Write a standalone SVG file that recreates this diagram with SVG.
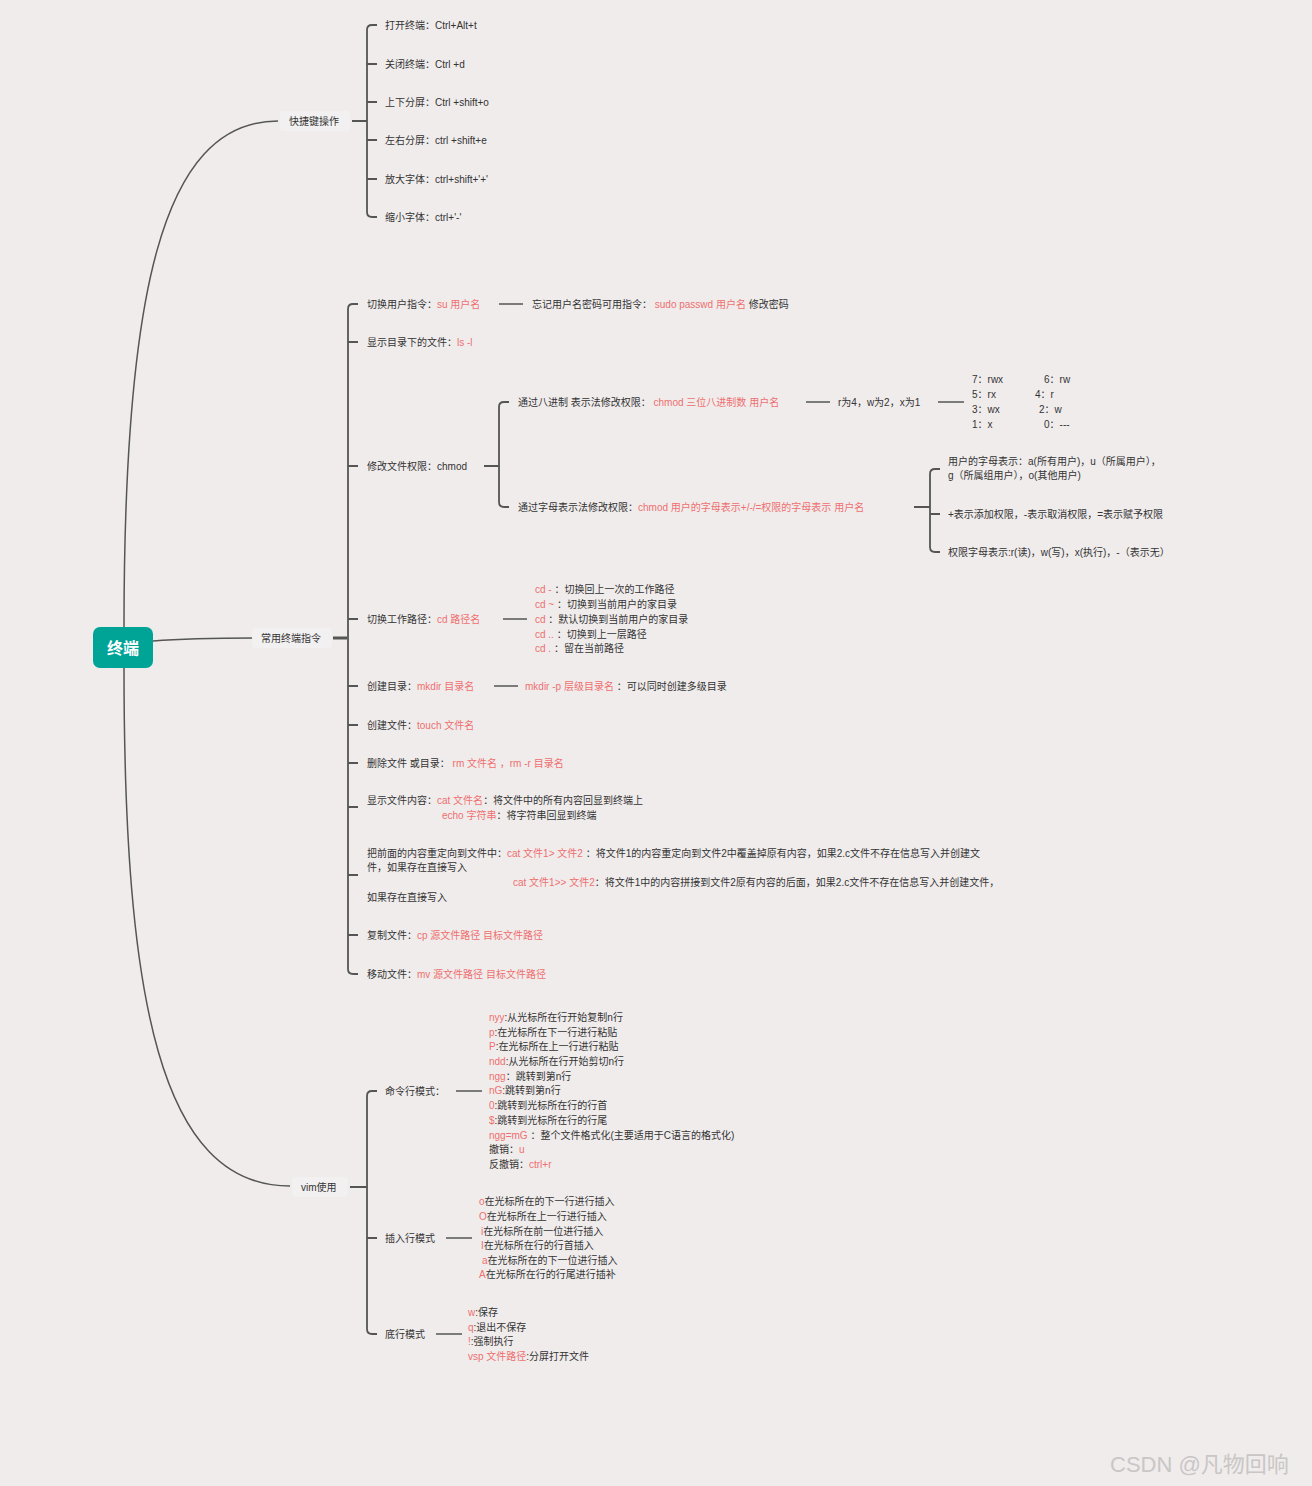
<svg xmlns="http://www.w3.org/2000/svg" width="1312" height="1486" viewBox="0 0 1312 1486">
<style>
text{font-family:"Liberation Sans","Noto Sans CJK SC",sans-serif;font-size:10px;fill:#333;dominant-baseline:central}
.r{fill:#ee6f6f}
.ln{fill:none;stroke:#555;stroke-width:1.5}
.br{fill:none;stroke:#555;stroke-width:1.8}
.lbl{fill:#f2f0f0}
</style>
<rect width="1312" height="1486" fill="#f0ecec"/>
<g id="connectors">
<path class="ln" d="M124,627 C124,300 160,121 278,121"/>
<path class="ln" d="M124,668 C124,1000 160,1186 290,1186"/>
<path class="ln" d="M153,641 C190,638 220,638 255,638"/>
<!-- shortcuts -->
<path class="br" d="M352,121 H367 M372,25 Q367,25 367,30 V212 Q367,217 372,217 H377 M372,25 H377 M367,64 H377 M367,102 H377 M367,140 H377 M367,179 H377"/>
<!-- commands -->
<path d="M333,638 H347" stroke="#555" stroke-width="3"/>
<path class="br" d="M353,304 Q348,304 348,309 V969 Q348,974 353,974 H358 M353,304 H358 M348,342 H358 M348,466 H358 M348,619 H358 M348,686 H358 M348,725 H358 M348,763 H358 M348,807 H358 M348,875 H358 M348,935 H358"/>
<path class="ln" d="M499,304 H523 M503,619 H527 M494,686 H518"/>
<path class="br" d="M484,466 H499 M504,402 Q499,402 499,407 V502 Q499,507 504,507 H509 M504,402 H509"/>
<path class="ln" d="M806,402 H830 M938,402 H964"/>
<path class="br" d="M914,507 H930 M935,469 Q930,469 930,474 V547 Q930,552 935,552 H940 M935,469 H940 M930,514 H940"/>
<!-- vim -->
<path class="br" d="M350,1187 H367 M372,1091 Q367,1091 367,1096 V1329 Q367,1334 372,1334 H377 M372,1091 H377 M367,1238 H377"/>
<path class="ln" d="M456,1091 H482 M446,1238 H472 M436,1334 H462"/>
</g>
<g id="root">
<rect x="93" y="627" width="60" height="41" rx="7" fill="#00a497"/>
<text x="123" y="648" text-anchor="middle" style="fill:#fff;font-size:16px;font-weight:bold">终端</text>
</g>
<g id="shortcuts">
<rect class="lbl" x="280" y="111" width="70" height="20" rx="4"/>
<text x="289" y="121">快捷键操作</text>
<text x="385" y="25">打开终端：Ctrl+Alt+t</text>
<text x="385" y="64">关闭终端：Ctrl +d</text>
<text x="385" y="102">上下分屏：Ctrl +shift+o</text>
<text x="385" y="140">左右分屏：ctrl +shift+e</text>
<text x="385" y="179">放大字体：ctrl+shift+'+'</text>
<text x="385" y="217">缩小字体：ctrl+'-'</text>
</g>
<g id="commands">
<rect class="lbl" x="252" y="628" width="80" height="20" rx="4"/>
<text x="261" y="638">常用终端指令</text>
<text x="367" y="304">切换用户指令：<tspan class="r">su  用户名</tspan></text>
<text x="532" y="304">忘记用户名密码可用指令： <tspan class="r">sudo passwd  用户名</tspan>   修改密码</text>
<text x="367" y="342">显示目录下的文件：<tspan class="r">ls  -l</tspan></text>
<text x="367" y="466">修改文件权限：chmod</text>
<text x="518" y="402">通过八进制 表示法修改权限： <tspan class="r">chmod 三位八进制数 用户名</tspan></text>
<text x="838" y="402">r为4，w为2，x为1</text>
<text x="972" y="379">7：rwx</text><text x="1044" y="379">6：rw</text>
<text x="972" y="394">5：rx</text><text x="1035" y="394">4：r</text>
<text x="972" y="409">3：wx</text><text x="1039" y="409">2：w</text>
<text x="972" y="424">1：x</text><text x="1044" y="424">0：---</text>
<text x="518" y="507">通过字母表示法修改权限：<tspan class="r">chmod 用户的字母表示+/-/=权限的字母表示  用户名</tspan></text>
<text x="948" y="461">用户的字母表示：a(所有用户)，u（所属用户），</text>
<text x="948" y="475">g（所属组用户），o(其他用户)</text>
<text x="948" y="514">+表示添加权限，-表示取消权限，=表示赋予权限</text>
<text x="948" y="552">权限字母表示:r(读)，w(写)，x(执行)，-（表示无）</text>
<text x="367" y="619">切换工作路径：<tspan class="r">cd   路径名</tspan></text>
<text x="535" y="589"><tspan class="r">cd - </tspan> ：切换回上一次的工作路径</text>
<text x="535" y="604"><tspan class="r">cd ~ </tspan> ：切换到当前用户的家目录</text>
<text x="535" y="619"><tspan class="r">cd    </tspan> ：默认切换到当前用户的家目录</text>
<text x="535" y="634"><tspan class="r">cd .. </tspan>：切换到上一层路径</text>
<text x="535" y="648"><tspan class="r">cd . </tspan> ：留在当前路径</text>
<text x="367" y="686">创建目录：<tspan class="r">mkdir 目录名</tspan></text>
<text x="525" y="686"><tspan class="r">mkdir -p 层级目录名</tspan> ：可以同时创建多级目录</text>
<text x="367" y="725">创建文件：<tspan class="r">touch 文件名</tspan></text>
<text x="367" y="763">删除文件 或目录： <tspan class="r">rm 文件名 ，rm -r 目录名</tspan></text>
<text x="367" y="800">显示文件内容：<tspan class="r">cat 文件名</tspan>：将文件中的所有内容回显到终端上</text>
<text x="442" y="815"><tspan class="r">echo 字符串</tspan>：将字符串回显到终端</text>
<text x="367" y="853">把前面的内容重定向到文件中：<tspan class="r">cat 文件1&gt; 文件2</tspan> ：将文件1的内容重定向到文件2中覆盖掉原有内容，如果2.c文件不存在信息写入并创建文</text>
<text x="367" y="867">件，如果存在直接写入</text>
<text x="513" y="882"><tspan class="r">cat 文件1&gt;&gt; 文件2</tspan>：将文件1中的内容拼接到文件2原有内容的后面，如果2.c文件不存在信息写入并创建文件，</text>
<text x="367" y="897">如果存在直接写入</text>
<text x="367" y="935">复制文件：<tspan class="r">cp 源文件路径  目标文件路径</tspan></text>
<text x="367" y="974">移动文件：<tspan class="r">mv 源文件路径  目标文件路径</tspan></text>
</g>
<g id="vim">
<rect class="lbl" x="292" y="1177" width="56" height="20" rx="4"/>
<text x="301" y="1187">vim使用</text>
<text x="385" y="1091">命令行模式：</text>
<text x="489" y="1017"><tspan class="r">nyy</tspan>:从光标所在行开始复制n行</text>
<text x="489" y="1032"><tspan class="r">p</tspan>:在光标所在下一行进行粘贴</text>
<text x="489" y="1046"><tspan class="r">P</tspan>:在光标所在上一行进行粘贴</text>
<text x="489" y="1061"><tspan class="r">ndd</tspan>:从光标所在行开始剪切n行</text>
<text x="489" y="1076"><tspan class="r">ngg</tspan>：跳转到第n行</text>
<text x="489" y="1090"><tspan class="r">nG</tspan>:跳转到第n行</text>
<text x="489" y="1105"><tspan class="r">0</tspan>:跳转到光标所在行的行首</text>
<text x="489" y="1120"><tspan class="r">$</tspan>:跳转到光标所在行的行尾</text>
<text x="489" y="1135"><tspan class="r">ngg=mG</tspan> ：整个文件格式化(主要适用于C语言的格式化)</text>
<text x="489" y="1149">撤销：<tspan class="r">u</tspan></text>
<text x="489" y="1164">反撤销：<tspan class="r">ctrl+r</tspan></text>
<text x="385" y="1238">插入行模式</text>
<text x="479" y="1201"><tspan class="r">o</tspan>在光标所在的下一行进行插入</text>
<text x="479" y="1216"><tspan class="r">O</tspan>在光标所在上一行进行插入</text>
<text x="481" y="1231"><tspan class="r">i</tspan>在光标所在前一位进行插入</text>
<text x="481" y="1245"><tspan class="r">I</tspan>在光标所在行的行首插入</text>
<text x="482" y="1260"><tspan class="r">a</tspan>在光标所在的下一位进行插入</text>
<text x="479" y="1274"><tspan class="r">A</tspan>在光标所在行的行尾进行插补</text>
<text x="385" y="1334">底行模式</text>
<text x="468" y="1312"><tspan class="r">w</tspan>:保存</text>
<text x="468" y="1327"><tspan class="r">q</tspan>:退出不保存</text>
<text x="468" y="1341"><tspan class="r">!</tspan>:强制执行</text>
<text x="468" y="1356"><tspan class="r">vsp 文件路径</tspan>:分屏打开文件</text>
</g>
<text x="1110" y="1464" style="font-size:22px;fill:#c9c6c6">CSDN @凡物回响</text>
</svg>
